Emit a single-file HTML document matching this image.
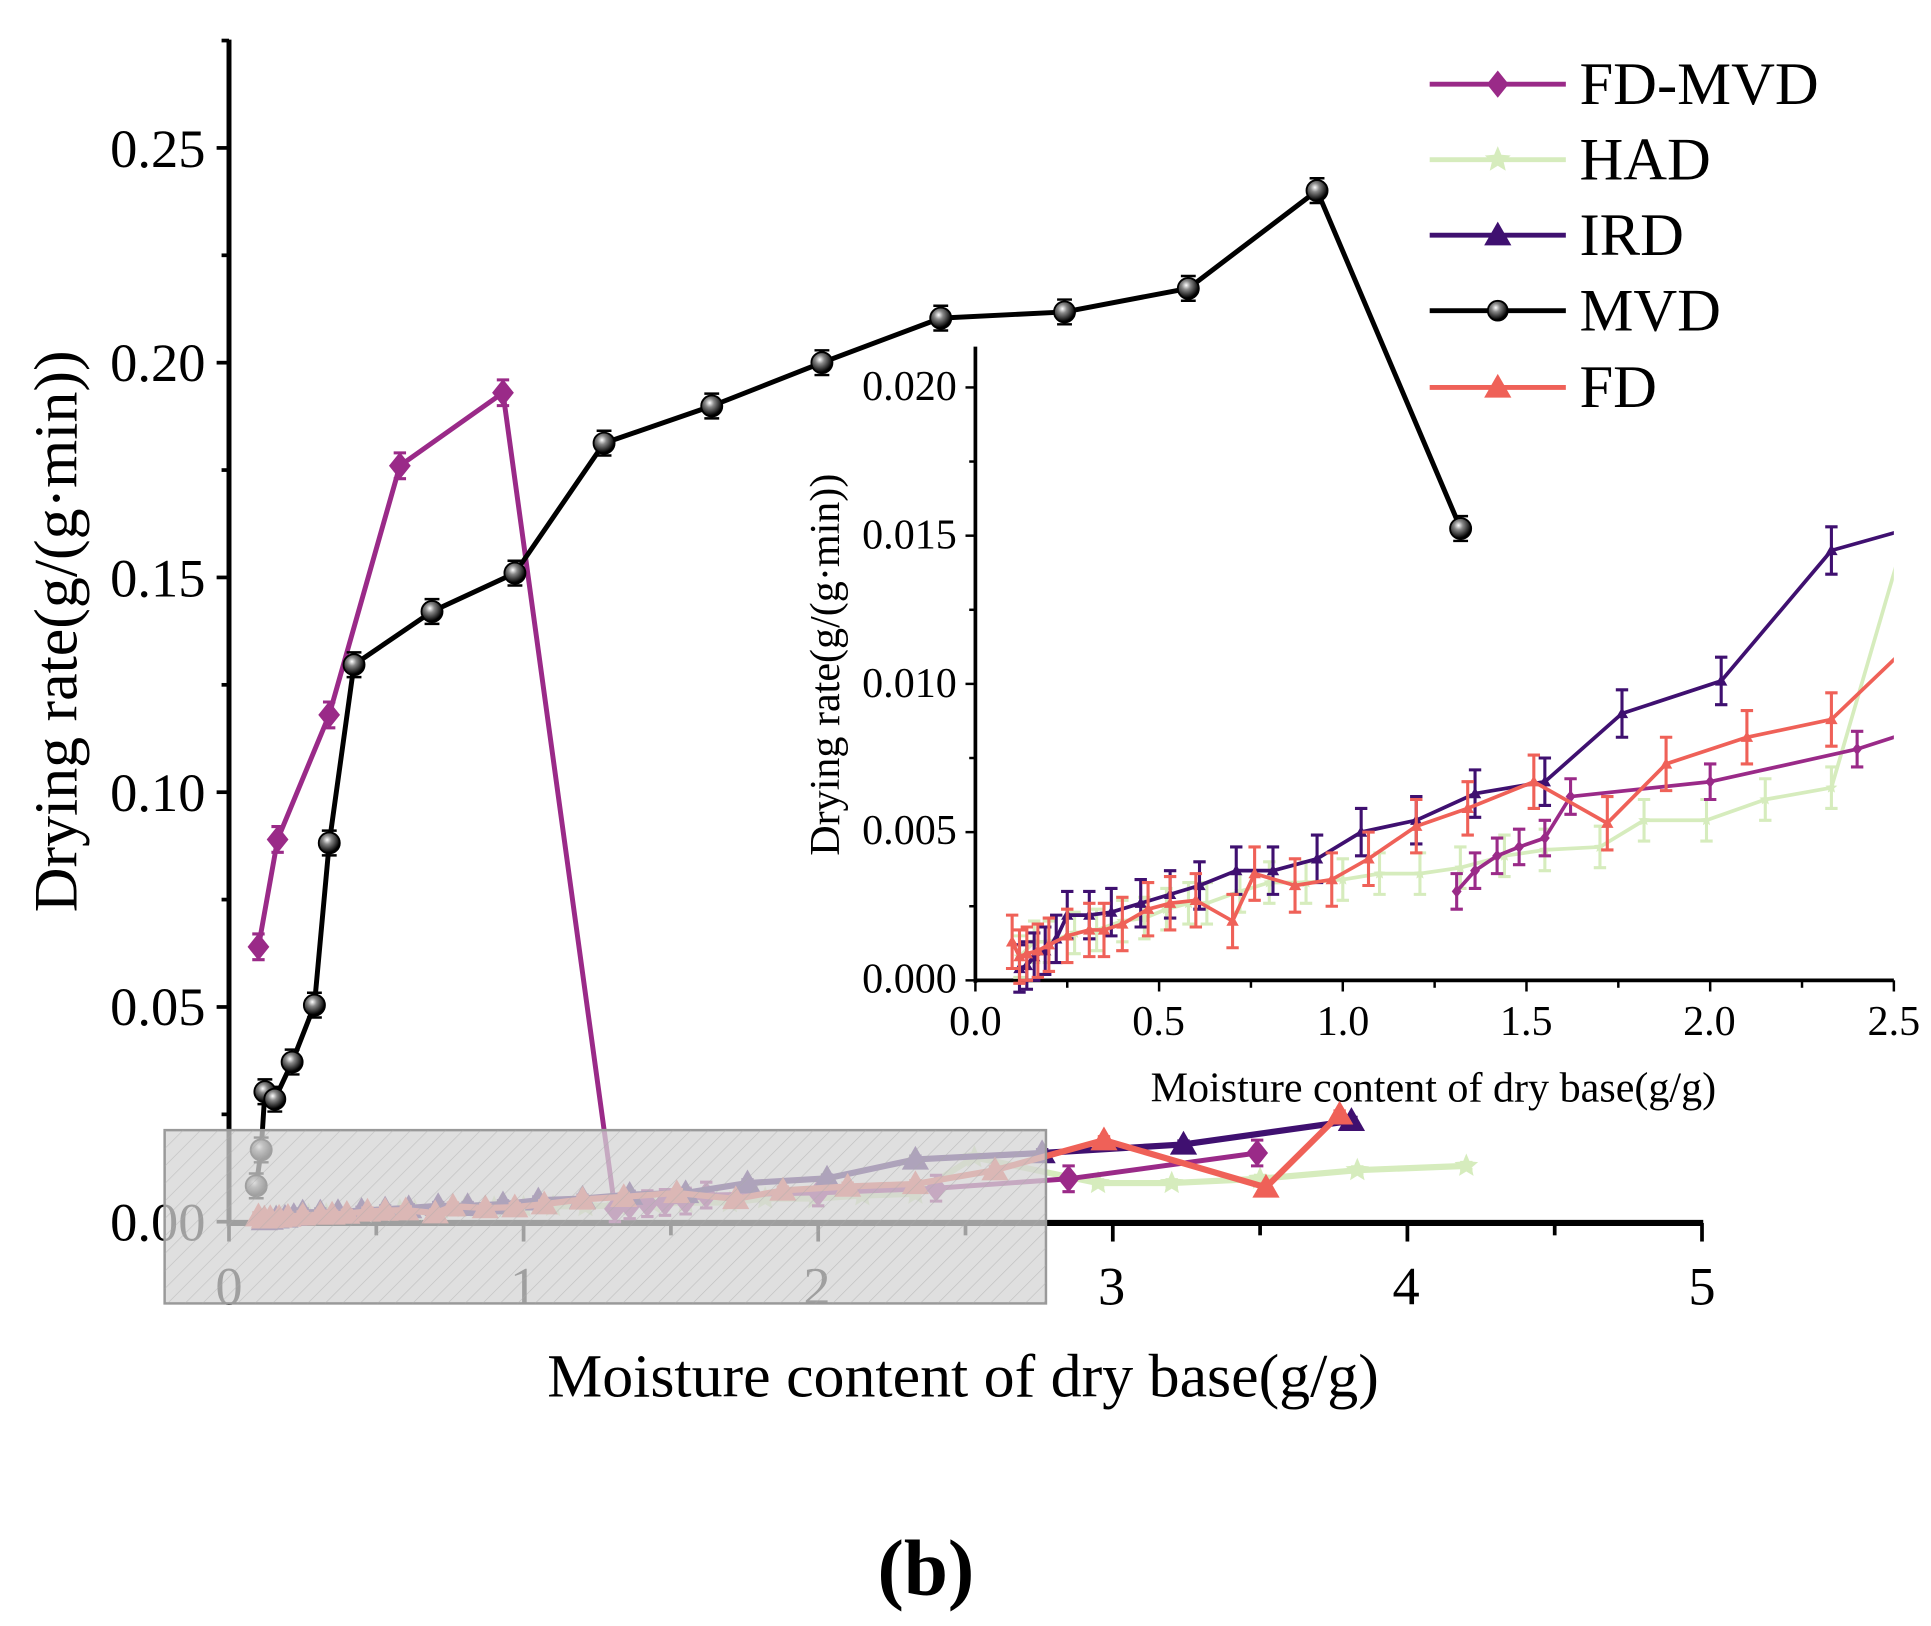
<!DOCTYPE html>
<html><head><meta charset="utf-8"><style>
html,body{margin:0;padding:0;background:#fff;}
svg{display:block;}
text{font-family:"Liberation Serif",serif;fill:#000;}
</style></head><body>
<svg id="s" width="1931" height="1626" viewBox="0 0 1560 1313.6" xmlns="http://www.w3.org/2000/svg">
<defs>
<pattern id="hatch" width="10" height="10" patternUnits="userSpaceOnUse" patternTransform="rotate(45)">
<line x1="0" y1="0" x2="0" y2="10" stroke="#aaa" stroke-width="1"/></pattern>
<radialGradient id="ball" cx="0.4" cy="0.35" r="0.6"><stop offset="0" stop-color="#fff"/><stop offset="0.35" stop-color="#888"/><stop offset="1" stop-color="#000"/></radialGradient>
</defs>
<g id="axes" stroke="#000" fill="none">
<line x1="185" y1="32" x2="185" y2="990" stroke-width="4"/>
<line x1="183" y1="988" x2="1376" y2="988" stroke-width="5"/>
</g>
<g font-size="44" text-anchor="end">
<text x="166" y="1002">0.00</text>
<text x="166" y="828">0.05</text>
<text x="166" y="655">0.10</text>
<text x="166" y="482">0.15</text>
<text x="166" y="308">0.20</text>
<text x="166" y="135">0.25</text>
</g>
<g font-size="44" text-anchor="middle">
<text x="185" y="1054">0</text><text x="423" y="1054">1</text><text x="660" y="1054">2</text>
<text x="898" y="1054">3</text><text x="1136" y="1054">4</text><text x="1375" y="1054">5</text>
</g>
<text x="778" y="1128" font-size="50" text-anchor="middle">Moisture content of dry base(g/g)</text>
<text transform="translate(62,510) rotate(-90)" font-size="50" text-anchor="middle">Drying rate(g/(g·min))</text>
<text x="748" y="1288" font-size="64" font-weight="bold" text-anchor="middle">(b)</text>
<!-- inset axes -->
<g stroke="#000" fill="none">
<line x1="788" y1="280" x2="788" y2="794" stroke-width="3"/>
<line x1="787" y1="792" x2="1530" y2="792" stroke-width="3"/>
</g>
<g font-size="34" text-anchor="end">
<text x="773" y="802">0.000</text><text x="773" y="682">0.005</text><text x="773" y="563">0.010</text>
<text x="773" y="443">0.015</text><text x="773" y="323">0.020</text>
</g>
<g font-size="34" text-anchor="middle">
<text x="788" y="836">0.0</text><text x="936" y="836">0.5</text><text x="1085" y="836">1.0</text>
<text x="1233" y="836">1.5</text><text x="1381" y="836">2.0</text><text x="1530" y="836">2.5</text>
</g>
<text x="1158" y="890" font-size="34" text-anchor="middle">Moisture content of dry base(g/g)</text>
<text transform="translate(678,537) rotate(-90)" font-size="34" text-anchor="middle">Drying rate(g/(g·min))</text>
<g id="main"></g>
<rect x="133" y="913" width="712" height="140" fill="#d4d4d4" fill-opacity="0.75" stroke="#999" stroke-width="2"/>
<rect x="133" y="913" width="712" height="140" fill="url(#hatch)" opacity="0.6"/>
<g id="ins"></g>
<g id="leg"></g>
<g font-size="49">
<text x="1276" y="84">FD-MVD</text><text x="1276" y="145">HAD</text><text x="1276" y="206">IRD</text>
<text x="1276" y="267">MVD</text><text x="1276" y="329">FD</text>
</g>
</svg>
<script>
var NS="http://www.w3.org/2000/svg";
function el(p,t,a){var e=document.createElementNS(NS,t);for(var k in a)e.setAttribute(k,a[k]);p.appendChild(e);return e;}
var S=document.getElementById('s'),A=S.querySelector('#axes'),M=document.getElementById('main'),I=document.getElementById('ins'),L=document.getElementById('leg');
for(var i=0;i<=10;i++){var x=185+119*i;el(A,'line',{x1:x,y1:988,x2:x,y2:i%2?998:1003,'stroke-width':3});}
for(var i=0;i<=11;i++){var y=987-86.75*i;if(y<32)break;el(A,'line',{x1:185,y1:y,x2:i%2?179:175,y2:y,'stroke-width':3});}
for(var i=0;i<=10;i++){var x=788+74.2*i;el(S,'line',{x1:x,y1:792,x2:x,y2:i%2?798:801,stroke:'#000','stroke-width':2});}
for(var i=0;i<=8;i++){var y=792-59.875*i;el(S,'line',{x1:788,y1:y,x2:i%2?783:780,y2:y,stroke:'#000','stroke-width':2});}
function mk(g,type,x,y,s,c){
 if(type=='d')el(g,'polygon',{points:[x,y-s,x+s*0.8,y,x,y+s,x-s*0.8,y].join(','),fill:c});
 else if(type=='t')el(g,'polygon',{points:[x,y-s,x+s,y+s*0.75,x-s,y+s*0.75].join(','),fill:c});
 else if(type=='s'){var p=[];for(var k=0;k<10;k++){var r=k%2?s*0.45:s,a=-Math.PI/2+k*Math.PI/5;p.push(x+r*Math.cos(a),y+r*Math.sin(a));}el(g,'polygon',{points:p.join(','),fill:c});}
 else if(type=='o'){el(g,'circle',{cx:x,cy:y,r:s,fill:'url(#ball)',stroke:'#000','stroke-width':1.5});}
}
function series(g,data,fx,fy,c,w,type,s,err){
 var pts=data.map(function(d){return [fx(d[0]),fy(d[1])];});
 if(err)data.forEach(function(d,i){var e=fy(d[1]-err*(d[2]||1))-fy(d[1]);var x=pts[i][0],y=pts[i][1];
   el(g,'path',{d:'M'+x+','+(y-e)+'V'+(y+e)+'M'+(x-5)+','+(y-e)+'h10M'+(x-5)+','+(y+e)+'h10',stroke:c,'stroke-width':2.5,fill:'none'});});
 el(g,'polyline',{points:pts.map(function(p){return p.join(',')}).join(' '),fill:'none',stroke:c,'stroke-width':w,'stroke-linejoin':'round'});
 pts.forEach(function(p){mk(g,type,p[0],p[1],s,c);});
}
var C={fm:'#9a2a88',had:'#d6ecbd',ird:'#3f1070',mvd:'#000',fd:'#ef6158'};
var fdmvdLow=[[1.31,0.0030],[1.36,0.0037],[1.42,0.0042],[1.48,0.0045],[1.55,0.0048],[1.62,0.0062],[2.0,0.0067],[2.4,0.0078]];
var had=[[0.12,0.0008],[0.16,0.0013],[0.2,0.0013],[0.27,0.0016],[0.33,0.0017],[0.4,0.002],[0.46,0.0021],[0.52,0.0024],[0.58,0.0026],[0.63,0.0026],[0.72,0.003],[0.8,0.0033],[0.9,0.0033],[1.0,0.0034],[1.1,0.0036],[1.21,0.0036],[1.32,0.0038],[1.44,0.0042],[1.55,0.0044],[1.7,0.0045],[1.82,0.0054],[1.99,0.0054],[2.15,0.0061],[2.33,0.0065],[2.53,0.015]];
var ird=[[0.12,0.0004],[0.14,0.0005],[0.16,0.0008],[0.19,0.0010],[0.22,0.0014],[0.25,0.0022],[0.31,0.0022],[0.37,0.0023],[0.45,0.0026],[0.53,0.0029],[0.61,0.0032],[0.71,0.0037],[0.81,0.0037],[0.93,0.0041],[1.05,0.0050],[1.2,0.0054],[1.36,0.0063],[1.55,0.0067],[1.76,0.0090],[2.03,0.0101],[2.33,0.0145],[2.76,0.016]];
var fd=[[0.1,0.0013],[0.12,0.0008],[0.14,0.0009],[0.17,0.001],[0.2,0.0012],[0.25,0.0015],[0.31,0.0017],[0.35,0.0017],[0.4,0.0019],[0.47,0.0024],[0.53,0.0026],[0.6,0.0027],[0.7,0.002],[0.76,0.0036],[0.87,0.0032],[0.97,0.0034],[1.07,0.0041],[1.2,0.0052],[1.34,0.0058],[1.52,0.0067],[1.72,0.0053],[1.88,0.0073],[2.1,0.0082],[2.33,0.0088],[2.6,0.012]];
var mx=function(m){return 185+238*m},my=function(v){return 987-3470*v};
series(M,had.concat([[2.95,0.009],[3.2,0.009],[3.5,0.01],[3.83,0.012],[4.2,0.013]]),mx,my,C.had,5,'s',10,0.0008);
series(M,[[0.1,0.064],[0.165,0.089],[0.34,0.118],[0.58,0.176],[0.93,0.193]].concat(fdmvdLow).concat([[2.85,0.010],[3.49,0.016]]),mx,my,C.fm,4,'d',11,0.003);
series(M,ird.concat([[3.24,0.018],[3.81,0.0235]]),mx,my,C.ird,5,'t',11,0.0008);
series(M,fd.concat([[2.97,0.019],[3.52,0.008],[3.77,0.025]]),mx,my,C.fd,5,'t',11,0.0008);
var mvd=[[207,958],[211,929],[214,882],[222,888],[236,858],[254,812],[266,681],[286,537],[349,494],[416,463],[488,358],[575,328],[664,293],[760,257],[860,252],[960,233],[1064,154],[1180,427]];
(function(){var g=M;mvd.forEach(function(p){el(g,'path',{d:'M'+p[0]+','+(p[1]-10)+'V'+(p[1]+10)+'M'+(p[0]-6)+','+(p[1]-10)+'h12M'+(p[0]-6)+','+(p[1]+10)+'h12',stroke:'#000','stroke-width':2});});
el(g,'polyline',{points:mvd.map(function(p){return p.join(',')}).join(' '),fill:'none',stroke:'#000','stroke-width':4,'stroke-linejoin':'round'});
mvd.forEach(function(p){mk(g,'o',p[0],p[1],8.5);});})();
var cp=el(S.querySelector('defs'),'clipPath',{id:'ic'});el(cp,'rect',{x:780,y:270,width:750,height:540});
I.setAttribute('clip-path','url(#ic)');
var ix=function(m){return 788+296.8*m},iy=function(v){return 792-23950*v};
series(I,had.concat([[2.7,0.02]]),ix,iy,C.had,3,'s',5,0.0007);
series(I,fdmvdLow.concat([[2.7,0.009]]),ix,iy,C.fm,3,'d',5,0.0006);
series(I,ird.concat([[2.9,0.016]]),ix,iy,C.ird,3,'t',5,0.0008);
series(I,fd.concat([[2.8,0.013]]),ix,iy,C.fd,3,'t',5,0.0009);
var ly=[68,129,190,251,313],lt=['d','s','t','o','t'],lc=[C.fm,C.had,C.ird,C.mvd,C.fd];
for(var i=0;i<5;i++){el(L,'line',{x1:1155,y1:ly[i],x2:1265,y2:ly[i],stroke:lc[i],'stroke-width':4});mk(L,lt[i],1210,ly[i],i==3?8:11,lc[i]);}
</script>
</body></html>
